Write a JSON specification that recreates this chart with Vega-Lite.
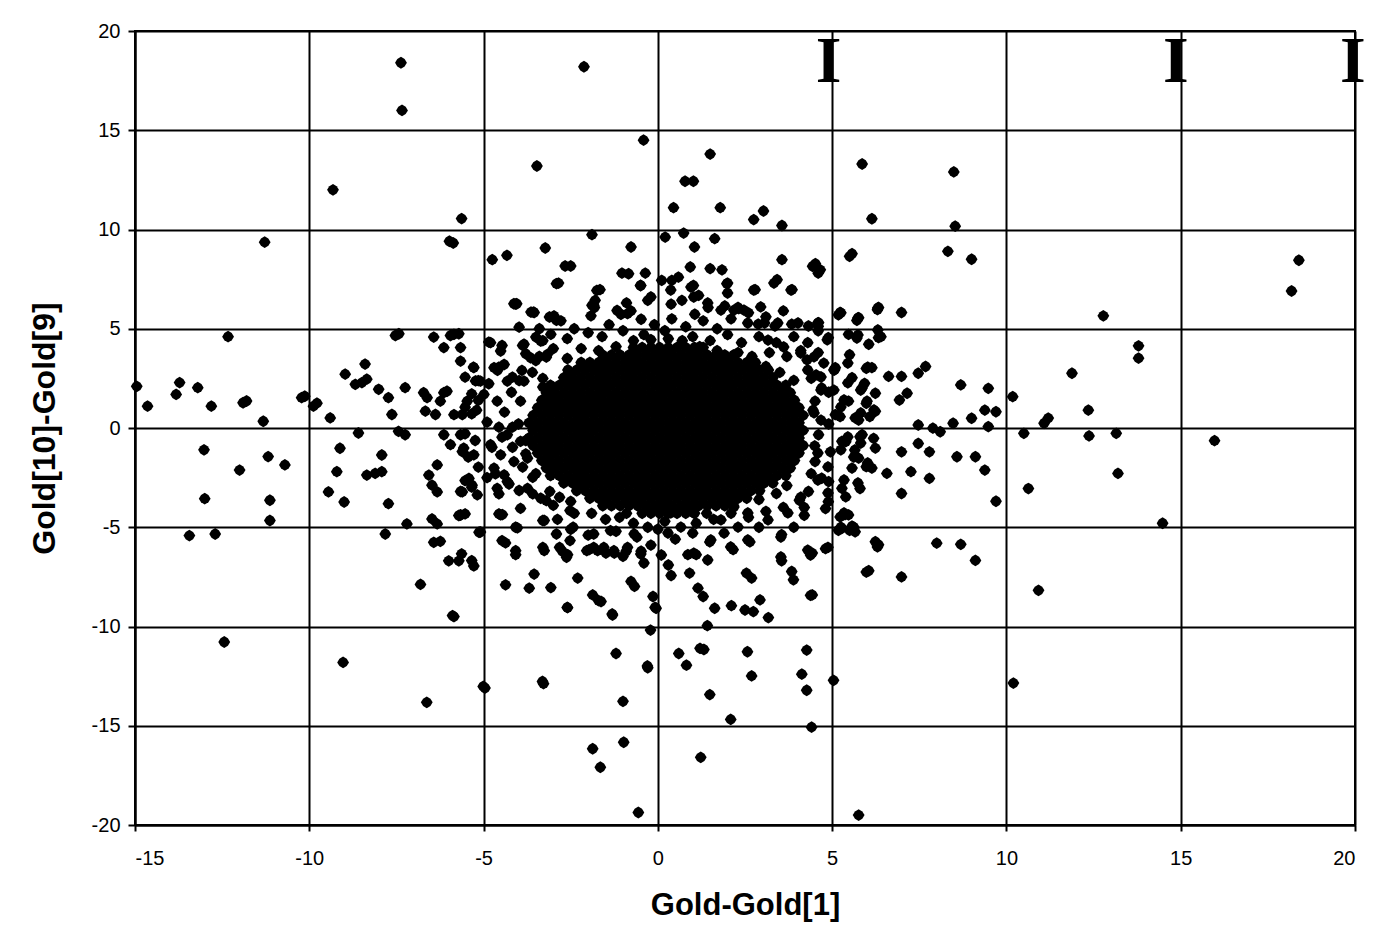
{
  "$schema": "https://vega.github.io/schema/vega-lite/v6.json",
  "autosize": "none",
  "width": 1220,
  "height": 794,
  "padding": {"left": 135, "top": 31, "right": 25, "bottom": 105},
  "background": "white",
  "encoding": {
    "x": {
      "field": "x",
      "type": "quantitative",
      "scale": {"domain": [-15, 20], "nice": false, "zero": false},
      "axis": {"values": [-15, -10, -5, 0, 5, 10, 15, 20], "labelExpr": "'' + datum.value", "tickSize": 6, "labelPadding": 17, "titlePadding": 22, "titleFontSize": 31},
      "title": "Gold-Gold[1]"
    },
    "y": {
      "field": "y",
      "type": "quantitative",
      "scale": {"domain": [-20, 20], "nice": false, "zero": false},
      "axis": {"values": [-20, -15, -10, -5, 0, 5, 10, 15, 20], "labelExpr": "'' + datum.value", "tickSize": 7, "labelPadding": 8, "titlePadding": 30, "titleFontSize": 32},
      "title": "Gold[10]-Gold[9]"
    }
  },
  "layer": [
    {
      "data": {
        "values": [
          {"x":-0.7,"y":4.06},{"x":-0.45,"y":4.06},{"x":-0.2,"y":4.06},{"x":0.05,"y":4.06},{"x":0.3,"y":4.06},{"x":0.55,"y":4.06},{"x":0.8,"y":4.06},{"x":1.05,"y":4.06},{"x":1.3,"y":4.06},
          {"x":-1.58,"y":3.68},{"x":-1.33,"y":3.68},{"x":-1.08,"y":3.68},{"x":-0.83,"y":3.68},{"x":-0.58,"y":3.68},{"x":-0.33,"y":3.68},{"x":-0.08,"y":3.68},{"x":0.17,"y":3.68},{"x":0.42,"y":3.68},{"x":0.67,"y":3.68},{"x":0.92,"y":3.68},{"x":1.17,"y":3.68},{"x":1.42,"y":3.68},{"x":1.67,"y":3.68},{"x":1.92,"y":3.68},{"x":2.17,"y":3.68},
          {"x":-2.2,"y":3.3},{"x":-1.95,"y":3.3},{"x":-1.7,"y":3.3},{"x":-1.45,"y":3.3},{"x":-1.2,"y":3.3},{"x":-0.95,"y":3.3},{"x":-0.7,"y":3.3},{"x":-0.45,"y":3.3},{"x":-0.2,"y":3.3},{"x":0.05,"y":3.3},{"x":0.3,"y":3.3},{"x":0.55,"y":3.3},{"x":0.8,"y":3.3},{"x":1.05,"y":3.3},{"x":1.3,"y":3.3},{"x":1.55,"y":3.3},{"x":1.8,"y":3.3},{"x":2.05,"y":3.3},{"x":2.3,"y":3.3},{"x":2.55,"y":3.3},{"x":2.8,"y":3.3},
          {"x":-2.58,"y":2.92},{"x":-2.33,"y":2.92},{"x":-2.08,"y":2.92},{"x":-1.83,"y":2.92},{"x":-1.58,"y":2.92},{"x":-1.33,"y":2.92},{"x":-1.08,"y":2.92},{"x":-0.83,"y":2.92},{"x":-0.58,"y":2.92},{"x":-0.33,"y":2.92},{"x":-0.08,"y":2.92},{"x":0.17,"y":2.92},{"x":0.42,"y":2.92},{"x":0.67,"y":2.92},{"x":0.92,"y":2.92},{"x":1.17,"y":2.92},{"x":1.42,"y":2.92},{"x":1.67,"y":2.92},{"x":1.92,"y":2.92},{"x":2.17,"y":2.92},{"x":2.42,"y":2.92},{"x":2.67,"y":2.92},{"x":2.92,"y":2.92},{"x":3.17,"y":2.92},
          {"x":-2.7,"y":2.54},{"x":-2.45,"y":2.54},{"x":-2.2,"y":2.54},{"x":-1.95,"y":2.54},{"x":-1.7,"y":2.54},{"x":-1.45,"y":2.54},{"x":-1.2,"y":2.54},{"x":-0.95,"y":2.54},{"x":-0.7,"y":2.54},{"x":-0.45,"y":2.54},{"x":-0.2,"y":2.54},{"x":0.05,"y":2.54},{"x":0.3,"y":2.54},{"x":0.55,"y":2.54},{"x":0.8,"y":2.54},{"x":1.05,"y":2.54},{"x":1.3,"y":2.54},{"x":1.55,"y":2.54},{"x":1.8,"y":2.54},{"x":2.05,"y":2.54},{"x":2.3,"y":2.54},{"x":2.55,"y":2.54},{"x":2.8,"y":2.54},{"x":3.05,"y":2.54},{"x":3.3,"y":2.54},
          {"x":-3.08,"y":2.16},{"x":-2.83,"y":2.16},{"x":-2.58,"y":2.16},{"x":-2.33,"y":2.16},{"x":-2.08,"y":2.16},{"x":-1.83,"y":2.16},{"x":-1.58,"y":2.16},{"x":-1.33,"y":2.16},{"x":-1.08,"y":2.16},{"x":-0.83,"y":2.16},{"x":-0.58,"y":2.16},{"x":-0.33,"y":2.16},{"x":-0.08,"y":2.16},{"x":0.17,"y":2.16},{"x":0.42,"y":2.16},{"x":0.67,"y":2.16},{"x":0.92,"y":2.16},{"x":1.17,"y":2.16},{"x":1.42,"y":2.16},{"x":1.67,"y":2.16},{"x":1.92,"y":2.16},{"x":2.17,"y":2.16},{"x":2.42,"y":2.16},{"x":2.67,"y":2.16},{"x":2.92,"y":2.16},{"x":3.17,"y":2.16},{"x":3.42,"y":2.16},{"x":3.67,"y":2.16},
          {"x":-3.2,"y":1.78},{"x":-2.95,"y":1.78},{"x":-2.7,"y":1.78},{"x":-2.45,"y":1.78},{"x":-2.2,"y":1.78},{"x":-1.95,"y":1.78},{"x":-1.7,"y":1.78},{"x":-1.45,"y":1.78},{"x":-1.2,"y":1.78},{"x":-0.95,"y":1.78},{"x":-0.7,"y":1.78},{"x":-0.45,"y":1.78},{"x":-0.2,"y":1.78},{"x":0.05,"y":1.78},{"x":0.3,"y":1.78},{"x":0.55,"y":1.78},{"x":0.8,"y":1.78},{"x":1.05,"y":1.78},{"x":1.3,"y":1.78},{"x":1.55,"y":1.78},{"x":1.8,"y":1.78},{"x":2.05,"y":1.78},{"x":2.3,"y":1.78},{"x":2.55,"y":1.78},{"x":2.8,"y":1.78},{"x":3.05,"y":1.78},{"x":3.3,"y":1.78},{"x":3.55,"y":1.78},{"x":3.8,"y":1.78},
          {"x":-3.33,"y":1.4},{"x":-3.08,"y":1.4},{"x":-2.83,"y":1.4},{"x":-2.58,"y":1.4},{"x":-2.33,"y":1.4},{"x":-2.08,"y":1.4},{"x":-1.83,"y":1.4},{"x":-1.58,"y":1.4},{"x":-1.33,"y":1.4},{"x":-1.08,"y":1.4},{"x":-0.83,"y":1.4},{"x":-0.58,"y":1.4},{"x":-0.33,"y":1.4},{"x":-0.08,"y":1.4},{"x":0.17,"y":1.4},{"x":0.42,"y":1.4},{"x":0.67,"y":1.4},{"x":0.92,"y":1.4},{"x":1.17,"y":1.4},{"x":1.42,"y":1.4},{"x":1.67,"y":1.4},{"x":1.92,"y":1.4},{"x":2.17,"y":1.4},{"x":2.42,"y":1.4},{"x":2.67,"y":1.4},{"x":2.92,"y":1.4},{"x":3.17,"y":1.4},{"x":3.42,"y":1.4},{"x":3.67,"y":1.4},{"x":3.92,"y":1.4},
          {"x":-3.45,"y":1.02},{"x":-3.2,"y":1.02},{"x":-2.95,"y":1.02},{"x":-2.7,"y":1.02},{"x":-2.45,"y":1.02},{"x":-2.2,"y":1.02},{"x":-1.95,"y":1.02},{"x":-1.7,"y":1.02},{"x":-1.45,"y":1.02},{"x":-1.2,"y":1.02},{"x":-0.95,"y":1.02},{"x":-0.7,"y":1.02},{"x":-0.45,"y":1.02},{"x":-0.2,"y":1.02},{"x":0.05,"y":1.02},{"x":0.3,"y":1.02},{"x":0.55,"y":1.02},{"x":0.8,"y":1.02},{"x":1.05,"y":1.02},{"x":1.3,"y":1.02},{"x":1.55,"y":1.02},{"x":1.8,"y":1.02},{"x":2.05,"y":1.02},{"x":2.3,"y":1.02},{"x":2.55,"y":1.02},{"x":2.8,"y":1.02},{"x":3.05,"y":1.02},{"x":3.3,"y":1.02},{"x":3.55,"y":1.02},{"x":3.8,"y":1.02},{"x":4.05,"y":1.02},
          {"x":-3.58,"y":0.64},{"x":-3.33,"y":0.64},{"x":-3.08,"y":0.64},{"x":-2.83,"y":0.64},{"x":-2.58,"y":0.64},{"x":-2.33,"y":0.64},{"x":-2.08,"y":0.64},{"x":-1.83,"y":0.64},{"x":-1.58,"y":0.64},{"x":-1.33,"y":0.64},{"x":-1.08,"y":0.64},{"x":-0.83,"y":0.64},{"x":-0.58,"y":0.64},{"x":-0.33,"y":0.64},{"x":-0.08,"y":0.64},{"x":0.17,"y":0.64},{"x":0.42,"y":0.64},{"x":0.67,"y":0.64},{"x":0.92,"y":0.64},{"x":1.17,"y":0.64},{"x":1.42,"y":0.64},{"x":1.67,"y":0.64},{"x":1.92,"y":0.64},{"x":2.17,"y":0.64},{"x":2.42,"y":0.64},{"x":2.67,"y":0.64},{"x":2.92,"y":0.64},{"x":3.17,"y":0.64},{"x":3.42,"y":0.64},{"x":3.67,"y":0.64},{"x":3.92,"y":0.64},{"x":4.17,"y":0.64},
          {"x":-3.7,"y":0.26},{"x":-3.45,"y":0.26},{"x":-3.2,"y":0.26},{"x":-2.95,"y":0.26},{"x":-2.7,"y":0.26},{"x":-2.45,"y":0.26},{"x":-2.2,"y":0.26},{"x":-1.95,"y":0.26},{"x":-1.7,"y":0.26},{"x":-1.45,"y":0.26},{"x":-1.2,"y":0.26},{"x":-0.95,"y":0.26},{"x":-0.7,"y":0.26},{"x":-0.45,"y":0.26},{"x":-0.2,"y":0.26},{"x":0.05,"y":0.26},{"x":0.3,"y":0.26},{"x":0.55,"y":0.26},{"x":0.8,"y":0.26},{"x":1.05,"y":0.26},{"x":1.3,"y":0.26},{"x":1.55,"y":0.26},{"x":1.8,"y":0.26},{"x":2.05,"y":0.26},{"x":2.3,"y":0.26},{"x":2.55,"y":0.26},{"x":2.8,"y":0.26},{"x":3.05,"y":0.26},{"x":3.3,"y":0.26},{"x":3.55,"y":0.26},{"x":3.8,"y":0.26},{"x":4.05,"y":0.26},
          {"x":-3.58,"y":-0.12},{"x":-3.33,"y":-0.12},{"x":-3.08,"y":-0.12},{"x":-2.83,"y":-0.12},{"x":-2.58,"y":-0.12},{"x":-2.33,"y":-0.12},{"x":-2.08,"y":-0.12},{"x":-1.83,"y":-0.12},{"x":-1.58,"y":-0.12},{"x":-1.33,"y":-0.12},{"x":-1.08,"y":-0.12},{"x":-0.83,"y":-0.12},{"x":-0.58,"y":-0.12},{"x":-0.33,"y":-0.12},{"x":-0.08,"y":-0.12},{"x":0.17,"y":-0.12},{"x":0.42,"y":-0.12},{"x":0.67,"y":-0.12},{"x":0.92,"y":-0.12},{"x":1.17,"y":-0.12},{"x":1.42,"y":-0.12},{"x":1.67,"y":-0.12},{"x":1.92,"y":-0.12},{"x":2.17,"y":-0.12},{"x":2.42,"y":-0.12},{"x":2.67,"y":-0.12},{"x":2.92,"y":-0.12},{"x":3.17,"y":-0.12},{"x":3.42,"y":-0.12},{"x":3.67,"y":-0.12},{"x":3.92,"y":-0.12},{"x":4.17,"y":-0.12},
          {"x":-3.7,"y":-0.5},{"x":-3.45,"y":-0.5},{"x":-3.2,"y":-0.5},{"x":-2.95,"y":-0.5},{"x":-2.7,"y":-0.5},{"x":-2.45,"y":-0.5},{"x":-2.2,"y":-0.5},{"x":-1.95,"y":-0.5},{"x":-1.7,"y":-0.5},{"x":-1.45,"y":-0.5},{"x":-1.2,"y":-0.5},{"x":-0.95,"y":-0.5},{"x":-0.7,"y":-0.5},{"x":-0.45,"y":-0.5},{"x":-0.2,"y":-0.5},{"x":0.05,"y":-0.5},{"x":0.3,"y":-0.5},{"x":0.55,"y":-0.5},{"x":0.8,"y":-0.5},{"x":1.05,"y":-0.5},{"x":1.3,"y":-0.5},{"x":1.55,"y":-0.5},{"x":1.8,"y":-0.5},{"x":2.05,"y":-0.5},{"x":2.3,"y":-0.5},{"x":2.55,"y":-0.5},{"x":2.8,"y":-0.5},{"x":3.05,"y":-0.5},{"x":3.3,"y":-0.5},{"x":3.55,"y":-0.5},{"x":3.8,"y":-0.5},{"x":4.05,"y":-0.5},
          {"x":-3.58,"y":-0.88},{"x":-3.33,"y":-0.88},{"x":-3.08,"y":-0.88},{"x":-2.83,"y":-0.88},{"x":-2.58,"y":-0.88},{"x":-2.33,"y":-0.88},{"x":-2.08,"y":-0.88},{"x":-1.83,"y":-0.88},{"x":-1.58,"y":-0.88},{"x":-1.33,"y":-0.88},{"x":-1.08,"y":-0.88},{"x":-0.83,"y":-0.88},{"x":-0.58,"y":-0.88},{"x":-0.33,"y":-0.88},{"x":-0.08,"y":-0.88},{"x":0.17,"y":-0.88},{"x":0.42,"y":-0.88},{"x":0.67,"y":-0.88},{"x":0.92,"y":-0.88},{"x":1.17,"y":-0.88},{"x":1.42,"y":-0.88},{"x":1.67,"y":-0.88},{"x":1.92,"y":-0.88},{"x":2.17,"y":-0.88},{"x":2.42,"y":-0.88},{"x":2.67,"y":-0.88},{"x":2.92,"y":-0.88},{"x":3.17,"y":-0.88},{"x":3.42,"y":-0.88},{"x":3.67,"y":-0.88},{"x":3.92,"y":-0.88},{"x":4.17,"y":-0.88},
          {"x":-3.45,"y":-1.26},{"x":-3.2,"y":-1.26},{"x":-2.95,"y":-1.26},{"x":-2.7,"y":-1.26},{"x":-2.45,"y":-1.26},{"x":-2.2,"y":-1.26},{"x":-1.95,"y":-1.26},{"x":-1.7,"y":-1.26},{"x":-1.45,"y":-1.26},{"x":-1.2,"y":-1.26},{"x":-0.95,"y":-1.26},{"x":-0.7,"y":-1.26},{"x":-0.45,"y":-1.26},{"x":-0.2,"y":-1.26},{"x":0.05,"y":-1.26},{"x":0.3,"y":-1.26},{"x":0.55,"y":-1.26},{"x":0.8,"y":-1.26},{"x":1.05,"y":-1.26},{"x":1.3,"y":-1.26},{"x":1.55,"y":-1.26},{"x":1.8,"y":-1.26},{"x":2.05,"y":-1.26},{"x":2.3,"y":-1.26},{"x":2.55,"y":-1.26},{"x":2.8,"y":-1.26},{"x":3.05,"y":-1.26},{"x":3.3,"y":-1.26},{"x":3.55,"y":-1.26},{"x":3.8,"y":-1.26},{"x":4.05,"y":-1.26},
          {"x":-3.33,"y":-1.64},{"x":-3.08,"y":-1.64},{"x":-2.83,"y":-1.64},{"x":-2.58,"y":-1.64},{"x":-2.33,"y":-1.64},{"x":-2.08,"y":-1.64},{"x":-1.83,"y":-1.64},{"x":-1.58,"y":-1.64},{"x":-1.33,"y":-1.64},{"x":-1.08,"y":-1.64},{"x":-0.83,"y":-1.64},{"x":-0.58,"y":-1.64},{"x":-0.33,"y":-1.64},{"x":-0.08,"y":-1.64},{"x":0.17,"y":-1.64},{"x":0.42,"y":-1.64},{"x":0.67,"y":-1.64},{"x":0.92,"y":-1.64},{"x":1.17,"y":-1.64},{"x":1.42,"y":-1.64},{"x":1.67,"y":-1.64},{"x":1.92,"y":-1.64},{"x":2.17,"y":-1.64},{"x":2.42,"y":-1.64},{"x":2.67,"y":-1.64},{"x":2.92,"y":-1.64},{"x":3.17,"y":-1.64},{"x":3.42,"y":-1.64},{"x":3.67,"y":-1.64},{"x":3.92,"y":-1.64},
          {"x":-3.2,"y":-2.02},{"x":-2.95,"y":-2.02},{"x":-2.7,"y":-2.02},{"x":-2.45,"y":-2.02},{"x":-2.2,"y":-2.02},{"x":-1.95,"y":-2.02},{"x":-1.7,"y":-2.02},{"x":-1.45,"y":-2.02},{"x":-1.2,"y":-2.02},{"x":-0.95,"y":-2.02},{"x":-0.7,"y":-2.02},{"x":-0.45,"y":-2.02},{"x":-0.2,"y":-2.02},{"x":0.05,"y":-2.02},{"x":0.3,"y":-2.02},{"x":0.55,"y":-2.02},{"x":0.8,"y":-2.02},{"x":1.05,"y":-2.02},{"x":1.3,"y":-2.02},{"x":1.55,"y":-2.02},{"x":1.8,"y":-2.02},{"x":2.05,"y":-2.02},{"x":2.3,"y":-2.02},{"x":2.55,"y":-2.02},{"x":2.8,"y":-2.02},{"x":3.05,"y":-2.02},{"x":3.3,"y":-2.02},{"x":3.55,"y":-2.02},{"x":3.8,"y":-2.02},
          {"x":-3.08,"y":-2.4},{"x":-2.83,"y":-2.4},{"x":-2.58,"y":-2.4},{"x":-2.33,"y":-2.4},{"x":-2.08,"y":-2.4},{"x":-1.83,"y":-2.4},{"x":-1.58,"y":-2.4},{"x":-1.33,"y":-2.4},{"x":-1.08,"y":-2.4},{"x":-0.83,"y":-2.4},{"x":-0.58,"y":-2.4},{"x":-0.33,"y":-2.4},{"x":-0.08,"y":-2.4},{"x":0.17,"y":-2.4},{"x":0.42,"y":-2.4},{"x":0.67,"y":-2.4},{"x":0.92,"y":-2.4},{"x":1.17,"y":-2.4},{"x":1.42,"y":-2.4},{"x":1.67,"y":-2.4},{"x":1.92,"y":-2.4},{"x":2.17,"y":-2.4},{"x":2.42,"y":-2.4},{"x":2.67,"y":-2.4},{"x":2.92,"y":-2.4},{"x":3.17,"y":-2.4},{"x":3.42,"y":-2.4},{"x":3.67,"y":-2.4},
          {"x":-2.7,"y":-2.78},{"x":-2.45,"y":-2.78},{"x":-2.2,"y":-2.78},{"x":-1.95,"y":-2.78},{"x":-1.7,"y":-2.78},{"x":-1.45,"y":-2.78},{"x":-1.2,"y":-2.78},{"x":-0.95,"y":-2.78},{"x":-0.7,"y":-2.78},{"x":-0.45,"y":-2.78},{"x":-0.2,"y":-2.78},{"x":0.05,"y":-2.78},{"x":0.3,"y":-2.78},{"x":0.55,"y":-2.78},{"x":0.8,"y":-2.78},{"x":1.05,"y":-2.78},{"x":1.3,"y":-2.78},{"x":1.55,"y":-2.78},{"x":1.8,"y":-2.78},{"x":2.05,"y":-2.78},{"x":2.3,"y":-2.78},{"x":2.55,"y":-2.78},{"x":2.8,"y":-2.78},{"x":3.05,"y":-2.78},{"x":3.3,"y":-2.78},
          {"x":-2.33,"y":-3.16},{"x":-2.08,"y":-3.16},{"x":-1.83,"y":-3.16},{"x":-1.58,"y":-3.16},{"x":-1.33,"y":-3.16},{"x":-1.08,"y":-3.16},{"x":-0.83,"y":-3.16},{"x":-0.58,"y":-3.16},{"x":-0.33,"y":-3.16},{"x":-0.08,"y":-3.16},{"x":0.17,"y":-3.16},{"x":0.42,"y":-3.16},{"x":0.67,"y":-3.16},{"x":0.92,"y":-3.16},{"x":1.17,"y":-3.16},{"x":1.42,"y":-3.16},{"x":1.67,"y":-3.16},{"x":1.92,"y":-3.16},{"x":2.17,"y":-3.16},{"x":2.42,"y":-3.16},{"x":2.67,"y":-3.16},{"x":2.92,"y":-3.16},
          {"x":-1.95,"y":-3.54},{"x":-1.7,"y":-3.54},{"x":-1.45,"y":-3.54},{"x":-1.2,"y":-3.54},{"x":-0.95,"y":-3.54},{"x":-0.7,"y":-3.54},{"x":-0.45,"y":-3.54},{"x":-0.2,"y":-3.54},{"x":0.05,"y":-3.54},{"x":0.3,"y":-3.54},{"x":0.55,"y":-3.54},{"x":0.8,"y":-3.54},{"x":1.05,"y":-3.54},{"x":1.3,"y":-3.54},{"x":1.55,"y":-3.54},{"x":1.8,"y":-3.54},{"x":2.05,"y":-3.54},{"x":2.3,"y":-3.54},{"x":2.55,"y":-3.54},
          {"x":-1.58,"y":-3.92},{"x":-1.33,"y":-3.92},{"x":-1.08,"y":-3.92},{"x":-0.83,"y":-3.92},{"x":-0.58,"y":-3.92},{"x":-0.33,"y":-3.92},{"x":-0.08,"y":-3.92},{"x":0.17,"y":-3.92},{"x":0.42,"y":-3.92},{"x":0.67,"y":-3.92},{"x":0.92,"y":-3.92},{"x":1.17,"y":-3.92},{"x":1.42,"y":-3.92},{"x":1.67,"y":-3.92},{"x":1.92,"y":-3.92},{"x":2.17,"y":-3.92},
          {"x":-0.45,"y":-4.3},{"x":-0.2,"y":-4.3},{"x":0.05,"y":-4.3},{"x":0.3,"y":-4.3},{"x":0.55,"y":-4.3},{"x":0.8,"y":-4.3},{"x":1.05,"y":-4.3},

          {"x":-7.37,"y":18.4},{"x":-7.34,"y":16.0},{"x":-2.12,"y":18.2},{"x":-0.41,"y":14.5},{"x":1.5,"y":13.8},{"x":-3.47,"y":13.2},{"x":0.78,"y":12.43},{"x":1.02,"y":12.43},{"x":0.45,"y":11.1},{"x":1.79,"y":11.1},{"x":3.03,"y":10.93},{"x":2.75,"y":10.5},{"x":3.56,"y":10.2},{"x":-5.63,"y":10.55},{"x":-5.98,"y":9.41},{"x":-9.32,"y":12.0},{"x":-11.28,"y":9.36},{"x":5.86,"y":13.3},{"x":8.49,"y":12.9},{"x":6.14,"y":10.54},{"x":8.53,"y":10.17},{"x":8.32,"y":8.9},{"x":9.0,"y":8.5},{"x":5.5,"y":8.65},{"x":5.57,"y":8.78},{"x":4.44,"y":8.15},{"x":4.6,"y":7.8},{"x":4.52,"y":8.28},{"x":4.66,"y":7.97},
          {"x":18.39,"y":8.45},{"x":18.18,"y":6.9},{"x":12.78,"y":5.65},{"x":13.79,"y":4.14},{"x":13.79,"y":3.52},{"x":11.88,"y":2.76},{"x":10.18,"y":1.58},{"x":12.35,"y":0.9},{"x":13.15,"y":-0.27},{"x":12.37,"y":-0.4},{"x":10.5,"y":-0.27},{"x":11.08,"y":0.24},{"x":11.2,"y":0.5},{"x":15.97,"y":-0.64},{"x":13.2,"y":-2.29},{"x":10.63,"y":-3.05},{"x":9.7,"y":-3.69},{"x":14.48,"y":-4.8},{"x":10.92,"y":-8.18},{"x":10.2,"y":-12.85},{"x":9.11,"y":-6.67},{"x":8.0,"y":-5.8},{"x":8.69,"y":-5.86},{"x":6.3,"y":-5.99},{"x":5.98,"y":-7.26},{"x":6.99,"y":-7.5},{"x":4.38,"y":-8.43},{"x":4.38,"y":-6.4},{"x":4.81,"y":-6.08},{"x":5.23,"y":-4.48},{"x":5.18,"y":-5.15},{"x":5.5,"y":-5.15},{"x":5.39,"y":-3.47},{"x":5.8,"y":-3.05},{"x":6.99,"y":-3.3},{"x":4.81,"y":-4.06},{"x":4.06,"y":-3.64},

          {"x":6.3,"y":5.96},{"x":6.99,"y":5.82},{"x":5.18,"y":5.7},{"x":5.71,"y":5.42},{"x":4.6,"y":5.12},{"x":6.4,"y":4.6},{"x":5.71,"y":4.53},{"x":4.86,"y":4.44},{"x":5.5,"y":3.69},{"x":8.69,"y":2.17},{"x":9.48,"y":2.0},{"x":7.68,"y":3.1},{"x":7.47,"y":2.76},{"x":6.62,"y":2.6},{"x":6.99,"y":2.6},{"x":7.15,"y":1.75},{"x":6.93,"y":1.41},{"x":6.24,"y":1.75},{"x":5.98,"y":3.0},{"x":5.07,"y":2.93},{"x":4.54,"y":2.68},{"x":4.28,"y":3.43},{"x":9.0,"y":0.49},{"x":9.38,"y":0.9},{"x":9.7,"y":0.82},{"x":8.47,"y":0.24},{"x":9.48,"y":0.07},{"x":7.47,"y":0.15},{"x":7.89,"y":-0.01},{"x":8.1,"y":-0.19},{"x":8.58,"y":-1.45},{"x":9.11,"y":-1.45},{"x":9.38,"y":-2.12},{"x":7.79,"y":-2.54},{"x":7.26,"y":-2.2},{"x":6.57,"y":-2.29},{"x":6.99,"y":-1.2},{"x":7.47,"y":-0.78},{"x":7.79,"y":-1.2},
          {"x":6.19,"y":-0.52},{"x":5.8,"y":-0.44},{"x":5.65,"y":-1.11},{"x":5.39,"y":-0.69},{"x":5.98,"y":-1.95},{"x":5.76,"y":0.4},{"x":6.08,"y":0.57},{"x":5.23,"y":0.57},{"x":5.34,"y":1.41},{"x":5.98,"y":1.24},{"x":5.93,"y":2.25},{"x":5.09,"y":3.04},{"x":5.57,"y":2.53},{"x":5.86,"y":2.02},{"x":6.14,"y":3.04},{"x":6.0,"y":1.35},{"x":5.47,"y":1.35},{"x":4.7,"y":2.02},{"x":4.51,"y":1.35},{"x":5.09,"y":0.67},{"x":5.66,"y":0.51},{"x":6.24,"y":0.84},{"x":4.61,"y":-0.34},{"x":5.28,"y":-0.67},{"x":5.86,"y":-0.34},{"x":6.24,"y":-1.01},{"x":5.76,"y":-1.52},{"x":4.51,"y":-1.69},{"x":4.7,"y":-2.53},{"x":5.28,"y":-3.04},{"x":5.57,"y":-2.02},{"x":6.14,"y":-2.02},{"x":4.32,"y":-3.2},{"x":4.89,"y":-3.71},{"x":5.47,"y":-4.38},{"x":5.28,"y":-5.06},{"x":5.66,"y":-5.23},{"x":6.24,"y":-5.73},
          {"x":4.89,"y":4.55},{"x":5.47,"y":4.72},{"x":6.05,"y":4.22},{"x":6.33,"y":4.55},{"x":5.23,"y":5.82},{"x":5.76,"y":5.56},{"x":6.33,"y":6.07},{"x":4.6,"y":4.9},{"x":4.3,"y":4.3},{"x":4.6,"y":3.8},{"x":4.4,"y":2.5},{"x":4.9,"y":1.8},{"x":4.45,"y":0.9},{"x":4.9,"y":0.2},{"x":4.5,"y":-0.9},{"x":4.95,"y":-1.2},{"x":4.4,"y":-2.3},{"x":4.9,"y":-2.7},{"x":4.2,"y":-4.0},
          {"x":0.37,"y":6.95},{"x":0.95,"y":7.1},{"x":1.03,"y":6.6},{"x":1.43,"y":6.3},{"x":2.0,"y":7.3},{"x":2.0,"y":6.8},{"x":1.81,"y":5.94},{"x":2.18,"y":5.94},{"x":2.75,"y":6.95},{"x":3.33,"y":7.3},{"x":3.82,"y":6.95},{"x":2.58,"y":5.29},{"x":3.06,"y":5.29},{"x":3.44,"y":5.29},{"x":4.02,"y":5.29},{"x":4.59,"y":5.29},{"x":5.25,"y":5.8},{"x":5.74,"y":5.54},{"x":6.31,"y":6.04},{"x":5.74,"y":4.69},{"x":6.31,"y":4.94},{"x":3.16,"y":4.43},{"x":3.61,"y":4.08},{"x":4.1,"y":3.78},{"x":4.48,"y":3.58},{"x":4.76,"y":3.27},{"x":4.3,"y":2.92},{"x":4.68,"y":2.57},{"x":5.05,"y":2.92},{"x":5.45,"y":3.27},{"x":6.02,"y":3.07},{"x":5.45,"y":2.27},{"x":5.82,"y":1.91},{"x":5.05,"y":1.91},{"x":4.68,"y":1.91},{"x":5.25,"y":1.06},{"x":5.82,"y":0.76},{"x":6.2,"y":0.91},{"x":4.48,"y":0.76},{"x":4.68,"y":0.4},{"x":5.45,"y":-0.45},{"x":5.82,"y":-0.76},{"x":5.25,"y":-1.1},{"x":5.62,"y":-1.46},{"x":6.02,"y":-1.76},{"x":4.59,"y":-1.26},{"x":4.88,"y":-1.96},{"x":4.59,"y":-2.62},{"x":4.88,"y":-3.27},{"x":5.34,"y":-2.62},{"x":5.74,"y":-2.77},{"x":4.1,"y":-3.48},{"x":3.73,"y":-4.28},{"x":3.16,"y":-4.63},{"x":5.34,"y":-4.28},{"x":5.25,"y":-4.99},{"x":5.62,"y":-4.99},{"x":2.18,"y":-3.98},{"x":2.58,"y":-4.28},{"x":1.81,"y":-4.63},{"x":2.3,"y":-4.99},{"x":3.53,"y":-5.49},{"x":4.3,"y":-6.15},{"x":3.53,"y":-6.5},{"x":1.52,"y":-5.64},{"x":2.09,"y":-5.99},{"x":1.03,"y":-6.3},{"x":1.43,"y":-6.65},{"x":2.58,"y":-5.64},{"x":0.37,"y":-4.28},{"x":0.66,"y":-4.99},{"x":0.29,"y":-5.29},{"x":1.03,"y":-4.28},{"x":2.95,"y":6.1},{"x":2.47,"y":5.94},

          {"x":-4.08,"y":6.24},{"x":-3.55,"y":5.82},{"x":-2.98,"y":5.65},{"x":-2.78,"y":5.4},{"x":-1.82,"y":6.07},{"x":-1.92,"y":5.65},{"x":-1.06,"y":5.73},{"x":-0.77,"y":5.9},{"x":-0.48,"y":5.48},{"x":0.38,"y":6.24},{"x":1.06,"y":5.73},{"x":1.44,"y":6.07},{"x":1.92,"y":6.15},{"x":2.3,"y":6.07},{"x":2.88,"y":5.23},{"x":3.36,"y":5.14},{"x":3.84,"y":5.23},{"x":4.32,"y":5.14},{"x":4.61,"y":5.31},
          {"x":-1.89,"y":9.74},{"x":0.21,"y":9.62},{"x":0.74,"y":9.82},{"x":1.63,"y":9.54},{"x":1.05,"y":9.12},{"x":-0.77,"y":9.12},{"x":-3.23,"y":9.07},{"x":-5.87,"y":9.32},{"x":-4.75,"y":8.48},{"x":-4.33,"y":8.7},{"x":-2.66,"y":8.16},{"x":-2.5,"y":8.16},{"x":-2.85,"y":7.3},{"x":-1.66,"y":6.97},{"x":-1.03,"y":7.8},{"x":-0.84,"y":7.77},{"x":-0.36,"y":7.8},{"x":-0.5,"y":7.18},{"x":3.56,"y":8.48},{"x":3.42,"y":7.47},{"x":3.85,"y":6.97},{"x":2.79,"y":6.97},{"x":-4.05,"y":6.26},{"x":-3.57,"y":5.84},{"x":-3.0,"y":5.59},{"x":-1.8,"y":6.43},{"x":-1.89,"y":6.18},{"x":0.93,"y":8.11},{"x":1.5,"y":8.03},{"x":1.84,"y":7.97},{"x":1.98,"y":7.27},{"x":1.02,"y":7.18},{"x":1.17,"y":6.68},{"x":2.32,"y":6.01},{"x":0.59,"y":7.6},{"x":0.4,"y":7.44},{"x":0.11,"y":7.44},{"x":0.69,"y":6.43},
          {"x":-0.2,"y":6.6},{"x":-0.9,"y":6.3},{"x":-1.4,"y":5.2},{"x":-2.4,"y":5.0},{"x":-0.1,"y":5.2},{"x":0.4,"y":5.5},{"x":0.8,"y":5.1},{"x":1.3,"y":5.4},{"x":1.7,"y":5.0},{"x":2.1,"y":5.5},{"x":2.6,"y":5.8},{"x":3.1,"y":5.6},{"x":3.6,"y":5.9},{"x":-3.4,"y":5.0},{"x":-2.0,"y":4.8},{"x":-2.6,"y":4.5},{"x":-1.6,"y":4.6},{"x":-1.0,"y":4.9},{"x":-0.4,"y":4.7},{"x":0.2,"y":4.9},{"x":1.0,"y":4.6},{"x":1.5,"y":4.4},{"x":2.0,"y":4.7},{"x":2.4,"y":4.3},{"x":2.9,"y":4.6},{"x":3.4,"y":4.3},{"x":3.9,"y":4.6},{"x":-3.3,"y":4.4},{"x":-3.0,"y":4.0},{"x":-2.2,"y":4.0},{"x":-1.7,"y":3.9},{"x":-1.2,"y":4.1},{"x":-0.7,"y":4.4},{"x":-0.2,"y":4.45},{"x":0.3,"y":4.5},{"x":0.7,"y":4.4},{"x":1.2,"y":4.1},{"x":1.7,"y":3.9},{"x":2.3,"y":3.8},{"x":2.7,"y":3.6},{"x":3.2,"y":3.8},{"x":3.7,"y":3.6},{"x":4.1,"y":3.9},{"x":-2.6,"y":3.5},{"x":-3.4,"y":3.6},{"x":3.1,"y":3.1},{"x":3.5,"y":2.8},{"x":3.9,"y":2.4},{"x":-3.6,"y":2.8},{"x":-3.3,"y":2.5},

          {"x":-2.91,"y":7.27},{"x":-4.13,"y":6.26},{"x":-3.64,"y":5.84},{"x":-3.11,"y":5.59},{"x":-2.91,"y":5.42},{"x":-1.75,"y":6.93},{"x":-1.84,"y":6.18},{"x":-1.17,"y":5.92},{"x":-0.87,"y":5.76},{"x":-0.49,"y":7.18},{"x":-0.29,"y":6.43},{"x":-3.98,"y":5.08},{"x":-3.5,"y":4.58},{"x":-4.47,"y":4.16},{"x":-4.85,"y":4.33},{"x":-3.88,"y":4.16},{"x":-5.29,"y":3.07},{"x":-5.53,"y":2.56},{"x":-4.56,"y":3.07},{"x":-5.15,"y":2.39},{"x":-4.85,"y":2.23},{"x":-5.34,"y":1.72},{"x":-4.17,"y":2.56},{"x":-3.98,"y":2.39},{"x":-3.79,"y":3.74},{"x":-3.5,"y":3.4},{"x":-3.2,"y":3.57},{"x":-3.3,"y":2.06},{"x":-3.01,"y":2.06},{"x":-5.53,"y":1.05},{"x":-5.34,"y":0.71},{"x":-5.15,"y":1.39},{"x":-4.56,"y":0.04},{"x":-5.53,"y":-0.29},{"x":-5.24,"y":-0.63},{"x":-4.76,"y":-0.97},{"x":-4.47,"y":-0.46},{"x":-4.17,"y":0.04},{"x":-3.79,"y":-0.63},{"x":-4.17,"y":-0.97},{"x":-3.79,"y":-1.3},{"x":-5.44,"y":-1.47},{"x":-5.15,"y":-1.97},{"x":-5.53,"y":-2.65},{"x":-5.34,"y":-2.98},{"x":-4.66,"y":-2.31},{"x":-4.27,"y":-2.82},{"x":-4.56,"y":-3.32},{"x":-3.88,"y":-1.97},{"x":-3.59,"y":-2.48},{"x":-3.98,"y":-3.15},{"x":-3.59,"y":-3.32},{"x":-3.2,"y":-3.66},{"x":-2.82,"y":-3.49},{"x":-2.52,"y":-4.16},{"x":-5.53,"y":-4.33},{"x":-4.56,"y":-4.33},{"x":-3.3,"y":-4.66},{"x":-4.08,"y":-5.0},{"x":-4.47,"y":-5.67},{"x":-4.08,"y":-6.18},{"x":-3.3,"y":-6.01},{"x":-2.82,"y":-6.01},{"x":-2.52,"y":-5.67},{"x":-2.62,"y":-6.51},{"x":-2.04,"y":-6.18},{"x":-1.84,"y":-6.01},{"x":-1.55,"y":-6.01},{"x":-1.26,"y":-6.18},{"x":-0.87,"y":-6.01},{"x":-0.49,"y":-6.35},{"x":-5.34,"y":-6.68},{"x":-5.63,"y":-6.34},{"x":-2.91,"y":-5.34},{"x":-2.43,"y":-5.0},{"x":-1.84,"y":-5.34},{"x":-1.36,"y":-5.17},{"x":-0.68,"y":-5.34},{"x":-0.29,"y":-5.0},

          {"x":-5.85,"y":4.72},{"x":-6.14,"y":4.05},{"x":-5.66,"y":4.05},{"x":-4.8,"y":4.3},{"x":-4.51,"y":3.88},{"x":-4.7,"y":3.04},{"x":-4.41,"y":3.2},{"x":-3.84,"y":4.22},{"x":-3.36,"y":4.38},{"x":-3.07,"y":4.72},{"x":-3.65,"y":3.54},{"x":-3.17,"y":3.71},{"x":-7.53,"y":4.66},{"x":-7.43,"y":4.75},{"x":-6.43,"y":4.58},{"x":-5.95,"y":4.66},{"x":-5.71,"y":4.75},{"x":-6.05,"y":1.85},{"x":-6.24,"y":1.35},{"x":-5.85,"y":0.67},{"x":-5.47,"y":1.35},{"x":-5.09,"y":2.36},{"x":-5.28,"y":3.04},{"x":-5.66,"y":3.37},{"x":-4.99,"y":1.69},{"x":-4.61,"y":1.35},{"x":-4.32,"y":2.36},{"x":-3.94,"y":1.35},{"x":-3.84,"y":2.36},
          {"x":-6.14,"y":-0.34},{"x":-5.95,"y":-0.84},{"x":-5.57,"y":-1.01},{"x":-5.66,"y":-0.34},{"x":-5.28,"y":-1.35},{"x":-4.8,"y":-0.84},{"x":-4.51,"y":-1.35},{"x":-4.7,"y":-2.02},{"x":-4.41,"y":-2.36},{"x":-4.13,"y":-1.69},{"x":-3.74,"y":-1.52},{"x":-3.94,"y":-0.67},{"x":-4.32,"y":-0.34},{"x":-5.66,"y":-3.2},{"x":-5.18,"y":-3.37},{"x":-4.61,"y":-3.04},{"x":-4.32,"y":-2.7},{"x":-3.74,"y":-3.04},{"x":-3.36,"y":-3.54},{"x":-3.94,"y":-4.05},{"x":-4.51,"y":-4.38},{"x":-5.66,"y":-4.38},{"x":-4.9,"y":0.3},{"x":-4.4,"y":0.8},{"x":-4.0,"y":0.2},{"x":-4.9,"y":-2.5},{"x":-5.2,"y":0.9},{"x":-4.6,"y":2.9},{"x":-4.2,"y":1.8},{"x":-3.9,"y":2.9},

          {"x":-14.95,"y":2.1},{"x":-14.64,"y":1.1},{"x":-13.72,"y":2.29},{"x":-13.82,"y":1.69},{"x":-13.2,"y":2.03},{"x":-12.81,"y":1.1},{"x":-12.33,"y":4.6},{"x":-11.9,"y":1.27},{"x":-11.8,"y":1.36},{"x":-11.32,"y":0.34},{"x":-10.22,"y":1.53},{"x":-9.88,"y":1.1},{"x":-9.4,"y":0.51},{"x":-8.97,"y":2.71},{"x":-8.68,"y":2.2},{"x":-8.49,"y":2.29},{"x":-8.35,"y":2.46},{"x":-8.4,"y":3.22},{"x":-8.01,"y":1.95},{"x":-7.73,"y":1.53},{"x":-7.63,"y":0.68},{"x":-7.25,"y":2.03},{"x":-6.72,"y":1.78},{"x":-6.62,"y":1.53},{"x":-6.14,"y":1.78},{"x":-6.67,"y":0.85},{"x":-6.38,"y":0.68},{"x":-5.23,"y":2.37},{"x":-5.61,"y":0.68},
          {"x":-8.59,"y":-0.25},{"x":-9.12,"y":-1.02},{"x":-9.21,"y":-2.2},{"x":-8.35,"y":-2.37},{"x":-7.92,"y":-1.36},{"x":-8.11,"y":-2.29},{"x":-7.92,"y":-2.2},{"x":-7.44,"y":-0.17},{"x":-7.25,"y":-0.34},{"x":-7.73,"y":-3.81},{"x":-9.0,"y":-3.73},{"x":-9.45,"y":-3.22},{"x":-13.02,"y":-1.1},{"x":-13.0,"y":-3.56},{"x":-11.18,"y":-1.44},{"x":-10.7,"y":-1.86},{"x":-12.0,"y":-2.12},{"x":-11.13,"y":-3.64},{"x":-11.13,"y":-4.66},{"x":-13.44,"y":-5.42},{"x":-12.7,"y":-5.34},{"x":-7.82,"y":-5.34},{"x":-7.2,"y":-4.83},{"x":-6.43,"y":-5.76},{"x":-6.0,"y":-6.69},{"x":-5.71,"y":-6.69},{"x":-5.28,"y":-6.95},{"x":-6.81,"y":-7.88},{"x":-6.48,"y":-4.58},{"x":-6.33,"y":-4.83},{"x":-5.71,"y":-4.41},{"x":-5.13,"y":-5.25},{"x":-6.57,"y":-2.37},{"x":-6.48,"y":-2.88},{"x":-6.33,"y":-3.22},{"x":-6.33,"y":-1.86},{"x":-5.61,"y":-1.19},{"x":-5.42,"y":-2.54},{"x":-5.33,"y":-2.88},{"x":-5.61,"y":-3.22},{"x":-10.13,"y":1.6},{"x":-9.78,"y":1.25},{"x":-12.44,"y":-10.78},{"x":-9.03,"y":-11.81},{"x":-6.63,"y":-13.82},{"x":-5.01,"y":-13.02},{"x":-3.31,"y":-12.77},{"x":-5.89,"y":-9.45},

          {"x":-5.66,"y":-4.39},{"x":-4.46,"y":-4.36},{"x":-4.03,"y":-5.03},{"x":-3.26,"y":-4.66},{"x":-5.09,"y":-5.24},{"x":-6.24,"y":-5.71},{"x":-5.85,"y":-9.5},{"x":-4.37,"y":-5.79},{"x":-4.08,"y":-6.38},{"x":-3.26,"y":-6.18},{"x":-2.74,"y":-6.21},{"x":-2.59,"y":-6.38},{"x":-1.97,"y":-6.13},{"x":-1.73,"y":-6.18},{"x":-1.49,"y":-6.3},{"x":-1.25,"y":-6.3},{"x":-1.0,"y":-6.47},{"x":-0.91,"y":-6.21},{"x":-0.48,"y":-6.21},{"x":-4.37,"y":-7.9},{"x":-3.55,"y":-7.36},{"x":-3.69,"y":-8.07},{"x":-3.07,"y":-8.04},{"x":-2.3,"y":-7.56},{"x":-2.59,"y":-9.05},{"x":-1.87,"y":-8.41},{"x":-1.63,"y":-8.74},{"x":-1.3,"y":-9.42},{"x":-0.77,"y":-7.73},{"x":-0.67,"y":-7.98},{"x":-0.14,"y":-8.49},{"x":-0.05,"y":-9.08},{"x":-0.21,"y":-10.18},{"x":0.38,"y":-7.43},{"x":0.91,"y":-7.31},{"x":0.86,"y":-6.38},{"x":1.1,"y":-6.38},{"x":1.49,"y":-5.74},{"x":1.15,"y":-8.07},{"x":1.3,"y":-8.49},{"x":1.63,"y":-9.08},{"x":2.11,"y":-8.95},{"x":2.5,"y":-9.17},{"x":2.74,"y":-9.25},{"x":2.93,"y":-8.66},{"x":3.17,"y":-9.55},{"x":2.54,"y":-7.31},{"x":2.69,"y":-7.56},{"x":2.16,"y":-6.13},{"x":2.64,"y":-5.74},{"x":3.55,"y":-5.37},{"x":3.55,"y":-6.69},{"x":3.84,"y":-7.23},{"x":3.89,"y":-7.65},{"x":4.43,"y":-8.41},{"x":4.43,"y":-6.3},{"x":4.88,"y":-6.01},{"x":5.37,"y":-4.36},{"x":5.57,"y":-4.95},{"x":6.05,"y":-7.19},{"x":6.33,"y":-5.88},
          {"x":1.42,"y":-9.96},{"x":-1.2,"y":-11.36},{"x":-0.29,"y":-12.08},{"x":-1.0,"y":-13.77},{"x":0.6,"y":-11.36},{"x":0.82,"y":-11.95},{"x":1.32,"y":-11.16},{"x":2.57,"y":-11.27},{"x":2.69,"y":-12.49},{"x":4.27,"y":-11.19},{"x":4.13,"y":-12.4},{"x":4.27,"y":-13.21},{"x":5.04,"y":-12.71},{"x":1.49,"y":-13.43},{"x":2.09,"y":-14.68},{"x":4.41,"y":-15.07},{"x":-3.28,"y":-12.88},{"x":-4.96,"y":-13.1},{"x":-0.98,"y":-15.83},{"x":-1.87,"y":-16.16},{"x":-1.65,"y":-17.09},{"x":1.23,"y":-16.59},{"x":-0.56,"y":-19.37},{"x":5.76,"y":-19.5},{"x":-2.6,"y":-9.04},{"x":-1.7,"y":-8.7},{"x":-1.31,"y":-9.37},{"x":-0.08,"y":-9.04},{"x":-0.3,"y":-11.99},{"x":1.21,"y":-11.1},

          {"x":-2.88,"y":-4.6},{"x":-2.4,"y":-4.3},{"x":-1.9,"y":-4.3},{"x":-1.5,"y":-4.6},{"x":-1.1,"y":-4.5},{"x":-0.7,"y":-4.8},{"x":-0.9,"y":-4.3},{"x":0.2,"y":-4.7},{"x":1.4,"y":-4.3},{"x":1.1,"y":-4.8},{"x":1.6,"y":-4.6},{"x":2.1,"y":-4.3},{"x":2.6,"y":-4.5},{"x":3.1,"y":-4.2},{"x":3.6,"y":-4.0},{"x":4.2,"y":-4.4},{"x":-2.5,"y":-5.1},{"x":-2.0,"y":-5.4},{"x":-1.2,"y":-5.2},{"x":-0.6,"y":-5.5},{"x":0.0,"y":-5.1},{"x":0.5,"y":-5.6},{"x":1.0,"y":-5.3},{"x":1.9,"y":-5.3},{"x":2.9,"y":-5.0},{"x":3.9,"y":-5.0},{"x":-0.2,"y":-5.9},{"x":0.1,"y":-6.4},{"x":-0.4,"y":-6.8},{"x":0.3,"y":-6.9},{"x":-3.0,"y":-3.9},{"x":-2.5,"y":-3.7},{"x":2.9,"y":-3.6},{"x":3.4,"y":-3.3},{"x":3.7,"y":-2.9},{"x":-3.1,"y":-3.2},{"x":-3.5,"y":-2.3}
        ]
      },
      "mark": {
        "type": "point",
        "shape": "M0,-1L0.62,-0.62L1,0L0.62,0.62L0,1L-0.62,0.62L-1,0L-0.62,-0.62Z",
        "size": 140,
        "filled": true,
        "color": "black",
        "opacity": 1
      }
    },
    {
      "data": {
        "values": [
          {"x": 4.9, "y": 17.45, "t": "I"},
          {"x": 14.86, "y": 17.45, "t": "I"},
          {"x": 19.94, "y": 17.45, "t": "I"}
        ]
      },
      "mark": {
        "type": "text",
        "font": "Liberation Serif",
        "fontSize": 66,
        "fontWeight": "bold",
        "baseline": "alphabetic",
        "align": "center",
        "color": "black"
      },
      "encoding": {"text": {"field": "t"}}
    }
  ],
  "config": {
    "view": {"stroke": "black", "strokeWidth": 2},
    "axis": {
      "grid": true,
      "gridColor": "black",
      "gridWidth": 2,
      "gridOpacity": 1,
      "domainColor": "black",
      "domainWidth": 2,
      "tickColor": "black",
      "tickWidth": 2,
      "labelColor": "black",
      "labelFont": "Liberation Sans",
      "labelFontSize": 20,
      "titleColor": "black",
      "titleFont": "Liberation Sans Narrow, Liberation Sans",
      "titleFontWeight": "bold"
    }
  }
}
